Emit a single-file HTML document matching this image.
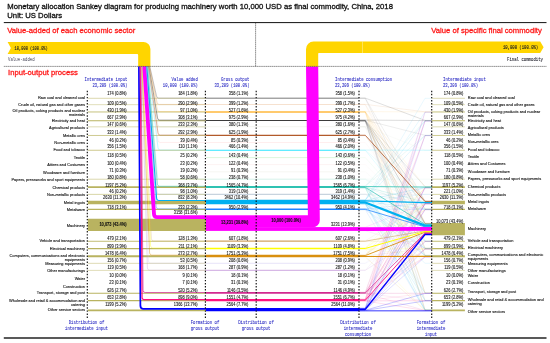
<!DOCTYPE html>
<html lang="en"><head><meta charset="utf-8"><title>Monetary allocation Sankey diagram</title>
<style>html,body{margin:0;padding:0;background:#fff;}body{width:550px;height:343px;overflow:hidden;}svg{display:block;}</style>
</head><body>
<svg width="550" height="343" viewBox="0 0 550 343">
<rect x="0" y="0" width="550" height="343" fill="#fff"/>
<g stroke="#b9b360" fill="none">
<line x1="87.8" x2="206" y1="98.31" y2="98.31" stroke-width="0.51"/>
<line x1="431.5" x2="464.9" y1="98.31" y2="98.31" stroke-width="0.51"/>
<line x1="87.8" x2="206" y1="104.67" y2="104.67" stroke-width="0.43"/>
<line x1="431.5" x2="464.9" y1="104.67" y2="104.67" stroke-width="0.43"/>
<line x1="87.8" x2="206" y1="111.96" y2="111.96" stroke-width="0.81"/>
<line x1="431.5" x2="464.9" y1="111.96" y2="111.96" stroke-width="0.81"/>
<line x1="87.8" x2="206" y1="120.68" y2="120.68" stroke-width="1.09"/>
<line x1="431.5" x2="464.9" y1="120.68" y2="120.68" stroke-width="1.09"/>
<line x1="87.8" x2="206" y1="126.84" y2="126.84" stroke-width="0.47"/>
<line x1="431.5" x2="464.9" y1="126.84" y2="126.84" stroke-width="0.47"/>
<line x1="87.8" x2="206" y1="135.47" y2="135.47" stroke-width="0.69"/>
<line x1="431.5" x2="464.9" y1="135.47" y2="135.47" stroke-width="0.69"/>
<line x1="87.8" x2="206" y1="150.26" y2="150.26" stroke-width="0.72"/>
<line x1="431.5" x2="464.9" y1="150.26" y2="150.26" stroke-width="0.72"/>
<line x1="87.8" x2="206" y1="179.23" y2="179.23" stroke-width="0.51"/>
<line x1="431.5" x2="464.9" y1="179.23" y2="179.23" stroke-width="0.51"/>
<line x1="87.8" x2="206" y1="187.22" y2="187.22" stroke-width="1.71"/>
<line x1="431.5" x2="464.9" y1="187.22" y2="187.22" stroke-width="1.71"/>
<line x1="87.8" x2="206" y1="194.36" y2="194.36" stroke-width="0.56"/>
<line x1="431.5" x2="464.9" y1="194.36" y2="194.36" stroke-width="0.56"/>
<line x1="87.8" x2="206" y1="202.49" y2="202.49" stroke-width="3.40"/>
<line x1="431.5" x2="464.9" y1="202.49" y2="202.49" stroke-width="3.40"/>
<line x1="87.8" x2="206" y1="209.34" y2="209.34" stroke-width="1.15"/>
<line x1="431.5" x2="464.9" y1="209.34" y2="209.34" stroke-width="1.15"/>
<line x1="87.8" x2="206" y1="224.96" y2="224.96" stroke-width="12.19"/>
<line x1="431.5" x2="464.9" y1="229.11" y2="229.11" stroke-width="12.19"/>
<line x1="87.8" x2="206" y1="241.28" y2="241.28" stroke-width="0.87"/>
<line x1="431.5" x2="464.9" y1="241.28" y2="241.28" stroke-width="0.87"/>
<line x1="87.8" x2="206" y1="248.62" y2="248.62" stroke-width="1.36"/>
<line x1="431.5" x2="464.9" y1="248.62" y2="248.62" stroke-width="1.36"/>
<line x1="87.8" x2="206" y1="256.16" y2="256.16" stroke-width="2.04"/>
<line x1="431.5" x2="464.9" y1="256.16" y2="256.16" stroke-width="2.04"/>
<line x1="87.8" x2="206" y1="263.33" y2="263.33" stroke-width="0.48"/>
<line x1="431.5" x2="464.9" y1="263.33" y2="263.33" stroke-width="0.48"/>
<line x1="87.8" x2="206" y1="270.40" y2="270.40" stroke-width="0.44"/>
<line x1="431.5" x2="464.9" y1="270.40" y2="270.40" stroke-width="0.44"/>
<line x1="87.8" x2="206" y1="293.21" y2="293.21" stroke-width="1.04"/>
<line x1="431.5" x2="464.9" y1="293.21" y2="293.21" stroke-width="1.04"/>
<line x1="87.8" x2="206" y1="300.63" y2="300.63" stroke-width="1.07"/>
<line x1="431.5" x2="464.9" y1="300.63" y2="300.63" stroke-width="1.07"/>
<line x1="87.8" x2="206" y1="310.41" y2="310.41" stroke-width="1.71"/>
<line x1="431.5" x2="464.9" y1="310.41" y2="310.41" stroke-width="1.71"/>
</g>
<g fill="none">
<line x1="206" x2="359.2" y1="98.20" y2="98.20" stroke="#585858" stroke-width="0.80"/>
<line x1="206" x2="359.2" y1="104.50" y2="104.50" stroke="#e8b487" stroke-width="0.40"/>
<line x1="206" x2="359.2" y1="111.90" y2="111.90" stroke="#ffb83c" stroke-width="1.50"/>
<line x1="206" x2="359.2" y1="120.50" y2="120.50" stroke="#3c3c3c" stroke-width="1.15"/>
<line x1="206" x2="359.2" y1="126.70" y2="126.70" stroke="#d6dccb" stroke-width="0.30"/>
<line x1="206" x2="359.2" y1="135.30" y2="135.30" stroke="#b25a2a" stroke-width="1.20"/>
<line x1="206" x2="359.2" y1="142.50" y2="142.50" stroke="#ffc4c4" stroke-width="0.30"/>
<line x1="206" x2="359.2" y1="150.20" y2="150.20" stroke="#2ee4ff" stroke-width="1.05"/>
<line x1="206" x2="359.2" y1="157.60" y2="157.60" stroke="#a4eaa4" stroke-width="0.38"/>
<line x1="206" x2="359.2" y1="164.60" y2="164.60" stroke="#f6d4d4" stroke-width="0.28"/>
<line x1="206" x2="359.2" y1="171.80" y2="171.80" stroke="#e2e2cf" stroke-width="0.28"/>
<line x1="206" x2="359.2" y1="179.20" y2="179.20" stroke="#9fe3d0" stroke-width="0.42"/>
<line x1="206" x2="359.2" y1="187.00" y2="187.00" stroke="#2fc2b2" stroke-width="2.07"/>
<line x1="206" x2="359.2" y1="194.30" y2="194.30" stroke="#8aa2ba" stroke-width="0.60"/>
<line x1="206" x2="359.2" y1="202.00" y2="202.00" stroke="#00b0f0" stroke-width="4.31"/>
<line x1="206" x2="359.2" y1="209.20" y2="209.20" stroke="#1e82ff" stroke-width="1.35"/>
<line x1="206" x2="359.2" y1="241.20" y2="241.20" stroke="#d2a562" stroke-width="1.20"/>
<line x1="206" x2="359.2" y1="248.50" y2="248.50" stroke="#ffff00" stroke-width="1.53"/>
<line x1="206" x2="359.2" y1="256.00" y2="256.00" stroke="#d98f0f" stroke-width="2.29"/>
<line x1="206" x2="359.2" y1="263.30" y2="263.30" stroke="#c9c3f2" stroke-width="0.45"/>
<line x1="206" x2="359.2" y1="270.30" y2="270.30" stroke="#c08fd8" stroke-width="0.80"/>
<line x1="206" x2="359.2" y1="292.90" y2="292.90" stroke="#d22a90" stroke-width="1.57"/>
<line x1="206" x2="359.2" y1="300.10" y2="300.10" stroke="#ff1080" stroke-width="2.05"/>
<line x1="206" x2="359.2" y1="309.60" y2="309.60" stroke="#0000ff" stroke-width="3.25"/>
</g>
<rect x="206" y="215.29" width="50.5" height="15.61" fill="#ff00ff"/>
<rect x="255" y="227.09" width="104.3" height="3.81" fill="#ff00ff"/>
<g fill="none" stroke-linejoin="round">
<path d="M359 230.81H365.3L425 248.63H432" stroke="#ff00ff" stroke-width="0.28" stroke-opacity="0.32"/>
<path d="M359 111.84H365.3L425 208.95H432" stroke="#ffb83c" stroke-width="0.28" stroke-opacity="0.32"/>
<path d="M359 142.51H365.3L425 223.79H432" stroke="#ffc4c4" stroke-width="0.28" stroke-opacity="0.32"/>
<path d="M359 120.96H365.3L425 292.97H432" stroke="#3c3c3c" stroke-width="0.28" stroke-opacity="0.32"/>
<path d="M359 203.75H365.3L425 263.32H432" stroke="#00b0f0" stroke-width="0.28" stroke-opacity="0.32"/>
<path d="M359 126.91H365.3L425 309.85H432" stroke="#d6dccb" stroke-width="0.28" stroke-opacity="0.32"/>
<path d="M359 126.83H365.3L425 248.24H432" stroke="#d6dccb" stroke-width="0.28" stroke-opacity="0.32"/>
<path d="M359 171.81H365.3L425 223.97H432" stroke="#e2e2cf" stroke-width="0.28" stroke-opacity="0.32"/>
<path d="M359 292.32H365.3L425 135.58H432" stroke="#d22a90" stroke-width="0.28" stroke-opacity="0.32"/>
<path d="M359 187.79H365.3L425 293.03H432" stroke="#2fc2b2" stroke-width="0.28" stroke-opacity="0.32"/>
<path d="M359 199.97H365.3L425 98.30H432" stroke="#00b0f0" stroke-width="0.28" stroke-opacity="0.32"/>
<path d="M359 308.13H365.3L425 112.20H432" stroke="#0000ff" stroke-width="0.28" stroke-opacity="0.32"/>
<path d="M359 112.03H365.3L425 255.34H432" stroke="#ffb83c" stroke-width="0.28" stroke-opacity="0.32"/>
<path d="M359 299.23H365.3L425 112.17H432" stroke="#ff1080" stroke-width="0.28" stroke-opacity="0.32"/>
<path d="M359 270.20H365.3L425 203.50H432" stroke="#c08fd8" stroke-width="0.28" stroke-opacity="0.33"/>
<path d="M359 120.17H365.3L425 135.32H432" stroke="#3c3c3c" stroke-width="0.28" stroke-opacity="0.33"/>
<path d="M359 200.42H365.3L425 194.37H432" stroke="#00b0f0" stroke-width="0.28" stroke-opacity="0.33"/>
<path d="M359 111.74H365.3L425 186.56H432" stroke="#ffb83c" stroke-width="0.28" stroke-opacity="0.33"/>
<path d="M359 248.08H365.3L425 209.48H432" stroke="#ffff00" stroke-width="0.28" stroke-opacity="0.33"/>
<path d="M359 179.19H365.3L425 202.01H432" stroke="#9fe3d0" stroke-width="0.28" stroke-opacity="0.33"/>
<path d="M359 112.20H365.3L425 309.75H432" stroke="#ffb83c" stroke-width="0.28" stroke-opacity="0.33"/>
<path d="M359 112.00H365.3L425 248.15H432" stroke="#ffb83c" stroke-width="0.28" stroke-opacity="0.33"/>
<path d="M359 186.19H365.3L425 135.40H432" stroke="#2fc2b2" stroke-width="0.28" stroke-opacity="0.33"/>
<path d="M359 98.25H365.3L425 200.96H432" stroke="#585858" stroke-width="0.28" stroke-opacity="0.33"/>
<path d="M359 263.25H365.3L425 203.47H432" stroke="#c9c3f2" stroke-width="0.28" stroke-opacity="0.33"/>
<path d="M359 292.28H365.3L425 120.96H432" stroke="#d22a90" stroke-width="0.28" stroke-opacity="0.34"/>
<path d="M359 293.16H365.3L425 241.45H432" stroke="#d22a90" stroke-width="0.28" stroke-opacity="0.34"/>
<path d="M359 135.61H365.3L425 223.76H432" stroke="#b25a2a" stroke-width="0.28" stroke-opacity="0.34"/>
<path d="M359 249.05H365.3L425 255.81H432" stroke="#ffff00" stroke-width="0.28" stroke-opacity="0.34"/>
<path d="M359 300.77H365.3L425 293.33H432" stroke="#ff1080" stroke-width="0.28" stroke-opacity="0.34"/>
<path d="M359 120.77H365.3L425 241.04H432" stroke="#3c3c3c" stroke-width="0.28" stroke-opacity="0.34"/>
<path d="M359 164.61H365.3L425 223.94H432" stroke="#f6d4d4" stroke-width="0.28" stroke-opacity="0.34"/>
<path d="M359 255.24H365.3L425 209.51H432" stroke="#d98f0f" stroke-width="0.28" stroke-opacity="0.34"/>
<path d="M359 293.49H365.3L425 300.63H432" stroke="#d22a90" stroke-width="0.28" stroke-opacity="0.34"/>
<path d="M359 247.96H365.3L425 187.58H432" stroke="#ffff00" stroke-width="0.28" stroke-opacity="0.34"/>
<path d="M359 120.99H365.3L425 300.30H432" stroke="#3c3c3c" stroke-width="0.28" stroke-opacity="0.35"/>
<path d="M359 186.15H365.3L425 120.75H432" stroke="#2fc2b2" stroke-width="0.28" stroke-opacity="0.35"/>
<path d="M359 200.02H365.3L425 112.06H432" stroke="#00b0f0" stroke-width="0.28" stroke-opacity="0.35"/>
<path d="M359 187.58H365.3L425 241.13H432" stroke="#2fc2b2" stroke-width="0.28" stroke-opacity="0.35"/>
<path d="M359 249.14H365.3L425 310.28H432" stroke="#ffff00" stroke-width="0.28" stroke-opacity="0.35"/>
<path d="M359 209.64H365.3L425 255.73H432" stroke="#1e82ff" stroke-width="0.28" stroke-opacity="0.35"/>
<path d="M359 308.23H365.3L425 135.65H432" stroke="#0000ff" stroke-width="0.28" stroke-opacity="0.35"/>
<path d="M359 299.33H365.3L425 135.61H432" stroke="#ff1080" stroke-width="0.28" stroke-opacity="0.35"/>
<path d="M359 240.93H365.3L425 203.26H432" stroke="#d2a562" stroke-width="0.28" stroke-opacity="0.35"/>
<path d="M359 104.53H365.3L425 200.99H432" stroke="#e8b487" stroke-width="0.28" stroke-opacity="0.35"/>
<path d="M359 157.61H365.3L425 223.90H432" stroke="#a4eaa4" stroke-width="0.28" stroke-opacity="0.35"/>
<path d="M359 208.77H365.3L425 187.50H432" stroke="#1e82ff" stroke-width="0.28" stroke-opacity="0.35"/>
<path d="M359 187.82H365.3L425 300.40H432" stroke="#2fc2b2" stroke-width="0.28" stroke-opacity="0.36"/>
<path d="M359 150.26H365.3L425 201.91H432" stroke="#2ee4ff" stroke-width="0.28" stroke-opacity="0.36"/>
<path d="M359 255.10H365.3L425 187.62H432" stroke="#d98f0f" stroke-width="0.28" stroke-opacity="0.36"/>
<path d="M359 209.74H365.3L425 310.20H432" stroke="#1e82ff" stroke-width="0.28" stroke-opacity="0.36"/>
<path d="M359 194.27H365.3L425 202.20H432" stroke="#8aa2ba" stroke-width="0.28" stroke-opacity="0.36"/>
<path d="M359 209.60H365.3L425 248.59H432" stroke="#1e82ff" stroke-width="0.28" stroke-opacity="0.36"/>
<path d="M359 257.01H365.3L425 310.32H432" stroke="#d98f0f" stroke-width="0.28" stroke-opacity="0.36"/>
<path d="M359 255.96H365.3L425 248.84H432" stroke="#d98f0f" stroke-width="0.28" stroke-opacity="0.36"/>
<path d="M359 203.82H365.3L425 293.08H432" stroke="#00b0f0" stroke-width="0.28" stroke-opacity="0.37"/>
<path d="M359 308.17H365.3L425 121.05H432" stroke="#0000ff" stroke-width="0.28" stroke-opacity="0.37"/>
<path d="M359 299.27H365.3L425 121.00H432" stroke="#ff1080" stroke-width="0.28" stroke-opacity="0.37"/>
<path d="M359 309.84H365.3L425 241.53H432" stroke="#0000ff" stroke-width="0.28" stroke-opacity="0.37"/>
<path d="M359 300.51H365.3L425 241.49H432" stroke="#ff1080" stroke-width="0.28" stroke-opacity="0.37"/>
<path d="M359 227.20H365.3L425 203.22H432" stroke="#ff00ff" stroke-width="0.28" stroke-opacity="0.37"/>
<path d="M359 126.67H365.3L425 201.24H432" stroke="#d6dccb" stroke-width="0.28" stroke-opacity="0.38"/>
<path d="M359 292.62H365.3L425 209.58H432" stroke="#d22a90" stroke-width="0.28" stroke-opacity="0.38"/>
<path d="M359 200.16H365.3L425 135.45H432" stroke="#00b0f0" stroke-width="0.28" stroke-opacity="0.38"/>
<path d="M359 120.49H365.3L425 208.99H432" stroke="#3c3c3c" stroke-width="0.28" stroke-opacity="0.39"/>
<path d="M359 179.24H365.3L425 224.01H432" stroke="#9fe3d0" stroke-width="0.28" stroke-opacity="0.39"/>
<path d="M359 98.31H365.3L425 223.19H432" stroke="#585858" stroke-width="0.28" stroke-opacity="0.39"/>
<path d="M359 179.12H365.3L425 179.20H432" stroke="#9fe3d0" stroke-width="0.28" stroke-opacity="0.39"/>
<path d="M359 194.21H365.3L425 194.33H432" stroke="#8aa2ba" stroke-width="0.28" stroke-opacity="0.39"/>
<path d="M359 293.28H365.3L425 256.83H432" stroke="#d22a90" stroke-width="0.28" stroke-opacity="0.40"/>
<path d="M359 263.31H365.3L425 232.53H432" stroke="#c9c3f2" stroke-width="0.28" stroke-opacity="0.40"/>
<path d="M359 187.06H365.3L425 209.14H432" stroke="#2fc2b2" stroke-width="0.28" stroke-opacity="0.40"/>
<path d="M359 120.89H365.3L425 255.38H432" stroke="#3c3c3c" stroke-width="0.28" stroke-opacity="0.40"/>
<path d="M359 111.80H365.3L425 201.04H432" stroke="#ffb83c" stroke-width="0.28" stroke-opacity="0.40"/>
<path d="M359 292.42H365.3L425 187.71H432" stroke="#d22a90" stroke-width="0.28" stroke-opacity="0.41"/>
<path d="M359 200.07H365.3L425 120.81H432" stroke="#00b0f0" stroke-width="0.28" stroke-opacity="0.41"/>
<path d="M359 203.46H365.3L425 241.20H432" stroke="#00b0f0" stroke-width="0.28" stroke-opacity="0.41"/>
<path d="M359 120.27H365.3L425 186.61H432" stroke="#3c3c3c" stroke-width="0.28" stroke-opacity="0.41"/>
<path d="M359 293.54H365.3L425 310.42H432" stroke="#d22a90" stroke-width="0.28" stroke-opacity="0.41"/>
<path d="M359 293.21H365.3L425 248.93H432" stroke="#d22a90" stroke-width="0.28" stroke-opacity="0.41"/>
<path d="M359 187.71H365.3L425 255.54H432" stroke="#2fc2b2" stroke-width="0.28" stroke-opacity="0.42"/>
<path d="M359 121.04H365.3L425 309.80H432" stroke="#3c3c3c" stroke-width="0.28" stroke-opacity="0.42"/>
<path d="M359 120.82H365.3L425 248.20H432" stroke="#3c3c3c" stroke-width="0.28" stroke-opacity="0.42"/>
<path d="M359 111.64H365.3L425 111.92H432" stroke="#ffb83c" stroke-width="0.28" stroke-opacity="0.42"/>
<path d="M359 126.56H365.3L425 150.11H432" stroke="#d6dccb" stroke-width="0.28" stroke-opacity="0.42"/>
<path d="M359 203.87H365.3L425 300.47H432" stroke="#00b0f0" stroke-width="0.28" stroke-opacity="0.42"/>
<path d="M359 104.61H365.3L425 223.26H432" stroke="#e8b487" stroke-width="0.28" stroke-opacity="0.43"/>
<path d="M359 308.66H365.3L425 209.72H432" stroke="#0000ff" stroke-width="0.28" stroke-opacity="0.43"/>
<path d="M359 299.76H365.3L425 209.65H432" stroke="#ff1080" stroke-width="0.28" stroke-opacity="0.43"/>
<path d="M359 248.02H365.3L425 203.32H432" stroke="#ffff00" stroke-width="0.28" stroke-opacity="0.44"/>
<path d="M359 187.88H365.3L425 309.98H432" stroke="#2fc2b2" stroke-width="0.28" stroke-opacity="0.44"/>
<path d="M359 187.64H365.3L425 248.38H432" stroke="#2fc2b2" stroke-width="0.28" stroke-opacity="0.44"/>
<path d="M359 150.34H365.3L425 223.84H432" stroke="#2ee4ff" stroke-width="0.28" stroke-opacity="0.44"/>
<path d="M359 194.35H365.3L425 224.55H432" stroke="#8aa2ba" stroke-width="0.28" stroke-opacity="0.44"/>
<path d="M359 310.01H365.3L425 256.99H432" stroke="#0000ff" stroke-width="0.28" stroke-opacity="0.46"/>
<path d="M359 300.67H365.3L425 256.90H432" stroke="#ff1080" stroke-width="0.28" stroke-opacity="0.46"/>
<path d="M359 208.84H365.3L425 203.15H432" stroke="#1e82ff" stroke-width="0.28" stroke-opacity="0.46"/>
<path d="M359 255.18H365.3L425 203.41H432" stroke="#d98f0f" stroke-width="0.28" stroke-opacity="0.47"/>
<path d="M359 308.36H365.3L425 187.88H432" stroke="#0000ff" stroke-width="0.28" stroke-opacity="0.47"/>
<path d="M359 299.46H365.3L425 187.79H432" stroke="#ff1080" stroke-width="0.28" stroke-opacity="0.47"/>
<path d="M359 126.76H365.3L425 223.70H432" stroke="#d6dccb" stroke-width="0.28" stroke-opacity="0.47"/>
<path d="M359 309.92H365.3L425 249.11H432" stroke="#0000ff" stroke-width="0.28" stroke-opacity="0.48"/>
<path d="M359 300.97H365.3L425 310.50H432" stroke="#ff1080" stroke-width="0.28" stroke-opacity="0.48"/>
<path d="M359 300.58H365.3L425 249.01H432" stroke="#ff1080" stroke-width="0.28" stroke-opacity="0.48"/>
<path d="M359 201.37H365.3L425 209.23H432" stroke="#00b0f0" stroke-width="0.28" stroke-opacity="0.50"/>
<path d="M359 112.11H365.3L425 292.90H432" stroke="#ffb83c" stroke-width="0.28" stroke-opacity="0.50"/>
<path d="M359 241.42H365.3L425 241.32H432" stroke="#d2a562" stroke-width="0.28" stroke-opacity="0.50"/>
<path d="M359 111.91H365.3L425 223.35H432" stroke="#ffb83c" stroke-width="0.28" stroke-opacity="0.53"/>
<path d="M359 203.68H365.3L425 255.65H432" stroke="#00b0f0" stroke-width="0.28" stroke-opacity="0.53"/>
<path d="M359 200.34H365.3L425 187.42H432" stroke="#00b0f0" stroke-width="0.28" stroke-opacity="0.55"/>
<path d="M359 300.85H365.3L425 300.71H432" stroke="#ff1080" stroke-width="0.28" stroke-opacity="0.56"/>
<path d="M359 203.98H365.3L425 310.11H432" stroke="#00b0f0" stroke-width="0.28" stroke-opacity="0.56"/>
<path d="M359 203.56H365.3L425 248.50H432" stroke="#00b0f0" stroke-width="0.28" stroke-opacity="0.56"/>
<path d="M359 292.53H365.3L425 203.59H432" stroke="#d22a90" stroke-width="0.28" stroke-opacity="0.57"/>
<path d="M359 120.39H365.3L425 201.14H432" stroke="#3c3c3c" stroke-width="0.28" stroke-opacity="0.58"/>
<path d="M359 208.95H365.3L425 209.36H432" stroke="#1e82ff" stroke-width="0.28" stroke-opacity="0.58"/>
<path d="M359 293.40H365.3L425 293.25H432" stroke="#d22a90" stroke-width="0.28" stroke-opacity="0.58"/>
<path d="M359 248.96H365.3L425 248.74H432" stroke="#ffff00" stroke-width="0.28" stroke-opacity="0.61"/>
<path d="M359 186.95H365.3L425 202.10H432" stroke="#2fc2b2" stroke-width="0.28" stroke-opacity="0.62"/>
<path d="M359 104.37H365.3L425 111.80H432" stroke="#e8b487" stroke-width="0.28" stroke-opacity="0.66"/>
<path d="M359 120.06H365.3L425 120.59H432" stroke="#3c3c3c" stroke-width="0.28" stroke-opacity="0.66"/>
<path d="M359 270.31H365.3L425 232.65H432" stroke="#c08fd8" stroke-width="0.28" stroke-opacity="0.66"/>
<path d="M359 98.10H365.3L425 120.38H432" stroke="#585858" stroke-width="0.28" stroke-opacity="0.69"/>
<path d="M359 308.53H365.3L425 203.95H432" stroke="#0000ff" stroke-width="0.28" stroke-opacity="0.70"/>
<path d="M359 299.63H365.3L425 203.75H432" stroke="#ff1080" stroke-width="0.28" stroke-opacity="0.70"/>
<path d="M359 310.20H365.3L425 293.46H432" stroke="#0000ff" stroke-width="0.28" stroke-opacity="0.77"/>
<path d="M359 120.63H365.3L425 223.53H432" stroke="#3c3c3c" stroke-width="0.28" stroke-opacity="0.80"/>
<path d="M359 150.08H365.3L425 150.26H432" stroke="#2ee4ff" stroke-width="0.28" stroke-opacity="0.80"/>
<path d="M359 310.43H365.3L425 300.90H432" stroke="#0000ff" stroke-width="0.28" stroke-opacity="0.80"/>
<path d="M359 241.17H365.3L425 230.87H432" stroke="#d2a562" stroke-width="0.62" stroke-opacity="1.00"/>
<path d="M359 187.32H365.3L425 224.28H432" stroke="#2fc2b2" stroke-width="0.69" stroke-opacity="1.00"/>
<path d="M359 292.90H365.3L425 233.00H432" stroke="#d22a90" stroke-width="0.72" stroke-opacity="1.00"/>
<path d="M359 209.29H365.3L425 226.86H432" stroke="#1e82ff" stroke-width="0.75" stroke-opacity="1.00"/>
<path d="M359 310.83H365.3L425 310.83H432" stroke="#0000ff" stroke-width="0.79" stroke-opacity="1.00"/>
<path d="M359 186.56H365.3L425 187.04H432" stroke="#2fc2b2" stroke-width="0.81" stroke-opacity="1.00"/>
<path d="M359 135.28H365.3L425 201.57H432" stroke="#b25a2a" stroke-width="0.83" stroke-opacity="1.00"/>
<path d="M359 255.59H365.3L425 232.17H432" stroke="#d98f0f" stroke-width="0.88" stroke-opacity="1.00"/>
<path d="M359 300.14H365.3L425 233.59H432" stroke="#ff1080" stroke-width="0.90" stroke-opacity="1.00"/>
<path d="M359 248.48H365.3L425 231.45H432" stroke="#ffff00" stroke-width="0.99" stroke-opacity="1.00"/>
<path d="M359 200.87H365.3L425 202.66H432" stroke="#00b0f0" stroke-width="1.10" stroke-opacity="1.00"/>
<path d="M359 256.46H365.3L425 256.30H432" stroke="#d98f0f" stroke-width="1.16" stroke-opacity="1.00"/>
<path d="M359 309.26H365.3L425 234.49H432" stroke="#0000ff" stroke-width="1.34" stroke-opacity="1.00"/>
<path d="M359 202.42H365.3L425 225.59H432" stroke="#00b0f0" stroke-width="2.23" stroke-opacity="1.00"/>
<path d="M359 229.01H365.3L425 228.90H432" stroke="#ff00ff" stroke-width="3.76" stroke-opacity="1.00"/>
</g>
<path d="M255 215.29 H307.90 L306.00 66.4 H318.20 L319.80 220.24 A7.00 7.00 0 0 1 312.80 227.24 H255 Z" fill="#ff00ff"/>
<path d="M306.00 66.4 V49.20 A7.60 7.60 0 0 1 313.60 41.60 H540.2 L543.6 47.35 L540.2 53.10 H318.80 A0.60 0.60 0 0 0 318.20 53.70 V66.4 Z" fill="#ffd500"/>
<line x1="362.5" x2="362.5" y1="41.60" y2="53.10" stroke="#fff" stroke-width="0.35"/>
<path d="M7.6 41.90 H143.40 A7.00 7.00 0 0 1 150.40 48.90 V66.4 H138.15 V55.00 A1.00 1.00 0 0 0 137.15 54.00 H7.6 L10.9 47.95 Z" fill="#ffd500"/>
<g fill="none" stroke-linejoin="round">
<path d="M138.91 66.4 L140.40 305.89 Q140.55 308.89 143.40 308.89 H206.2" stroke="#0000ff" stroke-width="1.73"/>
<path d="M140.24 66.4 L142.05 297.51 Q142.20 299.71 144.25 299.71 H206.2" stroke="#ff1080" stroke-width="1.18"/>
<path d="M141.08 66.4 L143.00 290.33 Q143.15 292.53 145.20 292.53 H206.2" stroke="#d22a90" stroke-width="0.73"/>
<path d="M141.50 66.4 L147.40 268.03 Q147.55 270.23 149.60 270.23 H206.2" stroke="#c08fd8" stroke-width="0.32"/>
<path d="M141.63 66.4 L148.40 261.01 Q148.55 263.21 150.60 263.21 H206.2" stroke="#c9c3f2" stroke-width="0.30"/>
<path d="M141.83 66.4 L149.60 252.93 Q149.75 255.13 151.80 255.13 H206.2" stroke="#d98f0f" stroke-width="0.44"/>
<path d="M142.11 66.4 L150.60 245.77 Q150.75 247.97 152.80 247.97 H206.2" stroke="#ffff00" stroke-width="0.37"/>
<path d="M142.31 66.4 L151.40 238.72 Q151.55 240.92 153.60 240.92 H206.2" stroke="#d2a562" stroke-width="0.30"/>
<path d="M144.25 66.4 L154.00 214.15 Q154.15 217.15 157.00 217.15 H206.2" stroke="#ff00ff" stroke-width="3.85"/>
<path d="M146.25 66.4 L156.20 206.58 Q156.35 208.78 158.40 208.78 H206.2" stroke="#1e82ff" stroke-width="0.39"/>
<path d="M146.88 66.4 L156.60 198.25 Q156.75 200.45 158.80 200.45 H206.2" stroke="#00b0f0" stroke-width="1.10"/>
<path d="M147.43 66.4 L157.00 191.97 Q157.15 194.17 159.20 194.17 H206.2" stroke="#8aa2ba" stroke-width="0.30"/>
<path d="M147.70 66.4 L157.40 184.09 Q157.55 186.29 159.60 186.29 H206.2" stroke="#2fc2b2" stroke-width="0.55"/>
<path d="M147.95 66.4 L157.60 176.89 Q157.75 179.09 159.80 179.09 H206.2" stroke="#9fe3d0" stroke-width="0.30"/>
<path d="M148.13 66.4 L158.00 147.79 Q158.15 149.99 160.20 149.99 H206.2" stroke="#2ee4ff" stroke-width="0.30"/>
<path d="M148.22 66.4 L158.00 140.27 Q158.15 142.47 160.20 142.47 H206.2" stroke="#ffc4c4" stroke-width="0.30"/>
<path d="M148.42 66.4 L158.00 132.90 Q158.15 135.10 160.20 135.10 H206.2" stroke="#b25a2a" stroke-width="0.46"/>
<path d="M148.73 66.4 L157.80 124.41 Q157.95 126.61 160.00 126.61 H206.2" stroke="#d6dccb" stroke-width="0.39"/>
<path d="M149.04 66.4 L157.50 117.91 Q157.65 120.11 159.70 120.11 H206.2" stroke="#3c3c3c" stroke-width="0.48"/>
<path d="M149.28 66.4 L157.30 109.45 Q157.45 111.65 159.50 111.65 H206.2" stroke="#ffb83c" stroke-width="0.30"/>
<path d="M149.51 66.4 L157.00 102.24 Q157.15 104.44 159.20 104.44 H206.2" stroke="#e8b487" stroke-width="0.46"/>
<path d="M149.79 66.4 L156.50 95.90 Q156.65 98.10 158.70 98.10 H206.2" stroke="#585858" stroke-width="0.34"/>
</g>
<line x1="3.8" x2="546.5" y1="22.6" y2="22.6" stroke="#111" stroke-width="1"/>
<line x1="3.8" x2="546.5" y1="337.9" y2="337.9" stroke="#222" stroke-width="1.5"/>
<line x1="3.8" x2="546.5" y1="66.4" y2="66.4" stroke="#222" stroke-width="0.5" stroke-dasharray="1.5 0.4"/>
<line x1="255.6" x2="255.6" y1="23" y2="66.4" stroke="#222" stroke-width="0.5" stroke-dasharray="1.5 0.4"/>
<line x1="87.3" x2="87.3" y1="90.8" y2="318" stroke="#111" stroke-width="1.15" stroke-dasharray="1.45 1.6"/>
<line x1="205.4" x2="205.4" y1="90.8" y2="318" stroke="#111" stroke-width="1.15" stroke-dasharray="1.45 1.6"/>
<line x1="256.2" x2="256.2" y1="90.8" y2="318" stroke="#111" stroke-width="1.15" stroke-dasharray="1.45 1.6"/>
<line x1="359.0" x2="359.0" y1="90.8" y2="318" stroke="#111" stroke-width="1.15" stroke-dasharray="1.45 1.6"/>
<line x1="431.7" x2="431.7" y1="90.8" y2="318" stroke="#111" stroke-width="1.15" stroke-dasharray="1.45 1.6"/>
<g font-family='"Liberation Sans", sans-serif' font-size="7.71" fill="#111" stroke="#111" stroke-width="0.3">
<text x="7.3" y="9.1">Monetary allocation Sankey diagram for producing machinery worth 10,000 USD as final commodity, China, 2018</text>
<text x="7.3" y="18.3">Unit: US Dollars</text>
</g>
<g font-family='"Liberation Sans", sans-serif' font-size="7.67" fill="#ff1a1a" stroke="#ff1a1a" stroke-width="0.3">
<text x="7.3" y="33.3">Value-added of each economic sector</text>
<text x="541.8" y="33.3" text-anchor="end">Value of specific final commodity</text>
<text x="8" y="75.2">Input-output process</text>
</g>
<g font-family='"Liberation Mono", "DejaVu Sans Mono", monospace' font-size="5.0" fill="#222" stroke="#222" stroke-width="0.12">
<text x="14.6" y="50.0" textLength="33.2" lengthAdjust="spacingAndGlyphs">10,000 (100.0%)</text>
<text x="8" y="60.6" fill="#445" stroke="none" textLength="26.7" lengthAdjust="spacingAndGlyphs">Value-added</text>
<text x="538.2" y="48.7" text-anchor="end" textLength="35.3" lengthAdjust="spacingAndGlyphs">10,000 (100.0%)</text>
<text x="543" y="60.7" text-anchor="end" fill="#445" textLength="36" lengthAdjust="spacingAndGlyphs">Final commodity</text>
</g>
<g font-family='"Liberation Mono", "DejaVu Sans Mono", monospace' font-size="5.0" fill="#3434c6" stroke="#3434c6" stroke-width="0.1">
<text x="127.4" y="81.3" text-anchor="end" textLength="42.8" lengthAdjust="spacingAndGlyphs">Intermediate input</text>
<text x="127.4" y="86.9" text-anchor="end" textLength="35.0" lengthAdjust="spacingAndGlyphs">23,209 (100.0%)</text>
<text x="197.8" y="81.3" text-anchor="end" textLength="26.2" lengthAdjust="spacingAndGlyphs">Value added</text>
<text x="197.8" y="86.9" text-anchor="end" textLength="35.0" lengthAdjust="spacingAndGlyphs">10,000 (100.0%)</text>
<text x="249.5" y="81.3" text-anchor="end" textLength="28.6" lengthAdjust="spacingAndGlyphs">Gross output</text>
<text x="249.5" y="86.9" text-anchor="end" textLength="35.0" lengthAdjust="spacingAndGlyphs">33,209 (100.0%)</text>
<text x="335.0" y="81.3" text-anchor="start" textLength="57.1" lengthAdjust="spacingAndGlyphs">Intermediate consumption</text>
<text x="335.0" y="86.9" text-anchor="start" textLength="35.0" lengthAdjust="spacingAndGlyphs">23,209 (100.0%)</text>
<text x="443.0" y="81.3" text-anchor="start" textLength="42.8" lengthAdjust="spacingAndGlyphs">Intermediate input</text>
<text x="443.0" y="86.9" text-anchor="start" textLength="35.0" lengthAdjust="spacingAndGlyphs">23,209 (100.0%)</text>
<text x="86.5" y="324.0" text-anchor="middle" textLength="35.7" lengthAdjust="spacingAndGlyphs">Distribution of</text>
<text x="86.5" y="329.8" text-anchor="middle" textLength="42.8" lengthAdjust="spacingAndGlyphs">intermediate input</text>
<text x="205.0" y="324.0" text-anchor="middle" textLength="28.6" lengthAdjust="spacingAndGlyphs">Formation of</text>
<text x="205.0" y="329.8" text-anchor="middle" textLength="28.6" lengthAdjust="spacingAndGlyphs">gross output</text>
<text x="256.0" y="324.0" text-anchor="middle" textLength="35.7" lengthAdjust="spacingAndGlyphs">Distribution of</text>
<text x="256.0" y="329.8" text-anchor="middle" textLength="28.6" lengthAdjust="spacingAndGlyphs">gross output</text>
<text x="358.0" y="324.0" text-anchor="middle" textLength="35.7" lengthAdjust="spacingAndGlyphs">Distribution of</text>
<text x="358.0" y="329.8" text-anchor="middle" textLength="28.6" lengthAdjust="spacingAndGlyphs">intermediate</text>
<text x="358.0" y="335.6" text-anchor="middle" textLength="26.2" lengthAdjust="spacingAndGlyphs">consumption</text>
<text x="431.0" y="324.0" text-anchor="middle" textLength="28.6" lengthAdjust="spacingAndGlyphs">Formation of</text>
<text x="431.0" y="329.8" text-anchor="middle" textLength="28.6" lengthAdjust="spacingAndGlyphs">intermediate</text>
<text x="431.0" y="335.6" text-anchor="middle" textLength="11.9" lengthAdjust="spacingAndGlyphs">input</text>
</g>
<g font-family='"Liberation Sans", sans-serif' font-size="4.55" fill="#111" stroke="#111" stroke-width="0.09">
<text x="126.6" y="94.85" text-anchor="end" textLength="19.47" lengthAdjust="spacingAndGlyphs">174 (0.8%)</text>
<text x="197.6" y="94.85" text-anchor="end" textLength="19.47" lengthAdjust="spacingAndGlyphs">184 (1.8%)</text>
<text x="248.3" y="94.85" text-anchor="end" textLength="19.47" lengthAdjust="spacingAndGlyphs">358 (1.1%)</text>
<text x="354.9" y="94.85" text-anchor="end" textLength="19.47" lengthAdjust="spacingAndGlyphs">358 (1.5%)</text>
<text x="463.3" y="94.85" text-anchor="end" textLength="19.47" lengthAdjust="spacingAndGlyphs">174 (0.8%)</text>
<text x="126.6" y="104.65" text-anchor="end" textLength="19.47" lengthAdjust="spacingAndGlyphs">109 (0.5%)</text>
<text x="197.6" y="104.65" text-anchor="end" textLength="19.47" lengthAdjust="spacingAndGlyphs">290 (2.9%)</text>
<text x="248.3" y="104.65" text-anchor="end" textLength="19.47" lengthAdjust="spacingAndGlyphs">399 (1.2%)</text>
<text x="354.9" y="104.65" text-anchor="end" textLength="19.47" lengthAdjust="spacingAndGlyphs">399 (1.7%)</text>
<text x="463.3" y="104.65" text-anchor="end" textLength="19.47" lengthAdjust="spacingAndGlyphs">109 (0.5%)</text>
<text x="126.6" y="111.75" text-anchor="end" textLength="19.47" lengthAdjust="spacingAndGlyphs">430 (1.9%)</text>
<text x="197.6" y="111.75" text-anchor="end" textLength="17.25" lengthAdjust="spacingAndGlyphs">97 (1.0%)</text>
<text x="248.3" y="111.75" text-anchor="end" textLength="19.47" lengthAdjust="spacingAndGlyphs">527 (1.6%)</text>
<text x="354.9" y="111.75" text-anchor="end" textLength="19.47" lengthAdjust="spacingAndGlyphs">527 (2.3%)</text>
<text x="463.3" y="111.75" text-anchor="end" textLength="19.47" lengthAdjust="spacingAndGlyphs">430 (1.9%)</text>
<text x="126.6" y="119.25" text-anchor="end" textLength="19.47" lengthAdjust="spacingAndGlyphs">667 (2.9%)</text>
<text x="197.6" y="119.25" text-anchor="end" textLength="19.47" lengthAdjust="spacingAndGlyphs">308 (3.1%)</text>
<text x="248.3" y="119.25" text-anchor="end" textLength="19.47" lengthAdjust="spacingAndGlyphs">975 (2.9%)</text>
<text x="354.9" y="119.25" text-anchor="end" textLength="19.47" lengthAdjust="spacingAndGlyphs">975 (4.2%)</text>
<text x="463.3" y="119.25" text-anchor="end" textLength="19.47" lengthAdjust="spacingAndGlyphs">667 (2.9%)</text>
<text x="126.6" y="126.25" text-anchor="end" textLength="19.47" lengthAdjust="spacingAndGlyphs">147 (0.6%)</text>
<text x="197.6" y="126.25" text-anchor="end" textLength="19.47" lengthAdjust="spacingAndGlyphs">233 (2.3%)</text>
<text x="248.3" y="126.25" text-anchor="end" textLength="19.47" lengthAdjust="spacingAndGlyphs">380 (1.1%)</text>
<text x="354.9" y="126.25" text-anchor="end" textLength="19.47" lengthAdjust="spacingAndGlyphs">380 (1.6%)</text>
<text x="463.3" y="126.25" text-anchor="end" textLength="19.47" lengthAdjust="spacingAndGlyphs">147 (0.6%)</text>
<text x="126.6" y="133.95" text-anchor="end" textLength="19.47" lengthAdjust="spacingAndGlyphs">333 (1.4%)</text>
<text x="197.6" y="133.95" text-anchor="end" textLength="19.47" lengthAdjust="spacingAndGlyphs">292 (2.9%)</text>
<text x="248.3" y="133.95" text-anchor="end" textLength="19.47" lengthAdjust="spacingAndGlyphs">625 (1.9%)</text>
<text x="354.9" y="133.95" text-anchor="end" textLength="19.47" lengthAdjust="spacingAndGlyphs">625 (2.7%)</text>
<text x="463.3" y="133.95" text-anchor="end" textLength="19.47" lengthAdjust="spacingAndGlyphs">333 (1.4%)</text>
<text x="126.6" y="142.35" text-anchor="end" textLength="17.25" lengthAdjust="spacingAndGlyphs">46 (0.2%)</text>
<text x="197.6" y="142.35" text-anchor="end" textLength="17.25" lengthAdjust="spacingAndGlyphs">39 (0.4%)</text>
<text x="248.3" y="142.35" text-anchor="end" textLength="17.25" lengthAdjust="spacingAndGlyphs">85 (0.3%)</text>
<text x="354.9" y="142.35" text-anchor="end" textLength="17.25" lengthAdjust="spacingAndGlyphs">85 (0.4%)</text>
<text x="463.3" y="142.35" text-anchor="end" textLength="17.25" lengthAdjust="spacingAndGlyphs">46 (0.2%)</text>
<text x="126.6" y="147.85" text-anchor="end" textLength="19.47" lengthAdjust="spacingAndGlyphs">356 (1.5%)</text>
<text x="197.6" y="147.85" text-anchor="end" textLength="19.17" lengthAdjust="spacingAndGlyphs">110 (1.1%)</text>
<text x="248.3" y="147.85" text-anchor="end" textLength="19.47" lengthAdjust="spacingAndGlyphs">466 (1.4%)</text>
<text x="354.9" y="147.85" text-anchor="end" textLength="19.47" lengthAdjust="spacingAndGlyphs">466 (2.0%)</text>
<text x="463.3" y="147.85" text-anchor="end" textLength="19.47" lengthAdjust="spacingAndGlyphs">356 (1.5%)</text>
<text x="126.6" y="157.35" text-anchor="end" textLength="19.17" lengthAdjust="spacingAndGlyphs">118 (0.5%)</text>
<text x="197.6" y="157.35" text-anchor="end" textLength="17.25" lengthAdjust="spacingAndGlyphs">25 (0.2%)</text>
<text x="248.3" y="157.35" text-anchor="end" textLength="19.47" lengthAdjust="spacingAndGlyphs">143 (0.4%)</text>
<text x="354.9" y="157.35" text-anchor="end" textLength="19.47" lengthAdjust="spacingAndGlyphs">143 (0.6%)</text>
<text x="463.3" y="157.35" text-anchor="end" textLength="19.17" lengthAdjust="spacingAndGlyphs">118 (0.5%)</text>
<text x="126.6" y="164.65" text-anchor="end" textLength="19.47" lengthAdjust="spacingAndGlyphs">100 (0.4%)</text>
<text x="197.6" y="164.65" text-anchor="end" textLength="17.25" lengthAdjust="spacingAndGlyphs">23 (0.2%)</text>
<text x="248.3" y="164.65" text-anchor="end" textLength="19.47" lengthAdjust="spacingAndGlyphs">122 (0.4%)</text>
<text x="354.9" y="164.65" text-anchor="end" textLength="19.47" lengthAdjust="spacingAndGlyphs">122 (0.5%)</text>
<text x="463.3" y="164.65" text-anchor="end" textLength="19.47" lengthAdjust="spacingAndGlyphs">100 (0.4%)</text>
<text x="126.6" y="171.95" text-anchor="end" textLength="17.25" lengthAdjust="spacingAndGlyphs">71 (0.3%)</text>
<text x="197.6" y="171.95" text-anchor="end" textLength="17.25" lengthAdjust="spacingAndGlyphs">19 (0.2%)</text>
<text x="248.3" y="171.95" text-anchor="end" textLength="17.25" lengthAdjust="spacingAndGlyphs">91 (0.3%)</text>
<text x="354.9" y="171.95" text-anchor="end" textLength="17.25" lengthAdjust="spacingAndGlyphs">91 (0.4%)</text>
<text x="463.3" y="171.95" text-anchor="end" textLength="17.25" lengthAdjust="spacingAndGlyphs">71 (0.3%)</text>
<text x="126.6" y="179.15" text-anchor="end" textLength="19.47" lengthAdjust="spacingAndGlyphs">180 (0.8%)</text>
<text x="197.6" y="179.15" text-anchor="end" textLength="17.25" lengthAdjust="spacingAndGlyphs">58 (0.6%)</text>
<text x="248.3" y="179.15" text-anchor="end" textLength="19.47" lengthAdjust="spacingAndGlyphs">238 (0.7%)</text>
<text x="354.9" y="179.15" text-anchor="end" textLength="19.47" lengthAdjust="spacingAndGlyphs">238 (1.0%)</text>
<text x="463.3" y="179.15" text-anchor="end" textLength="19.47" lengthAdjust="spacingAndGlyphs">180 (0.8%)</text>
<text x="126.6" y="186.75" text-anchor="end" textLength="21.39" lengthAdjust="spacingAndGlyphs">1197 (5.2%)</text>
<text x="197.6" y="186.75" text-anchor="end" textLength="19.47" lengthAdjust="spacingAndGlyphs">368 (3.7%)</text>
<text x="248.3" y="186.75" text-anchor="end" textLength="21.68" lengthAdjust="spacingAndGlyphs">1565 (4.7%)</text>
<text x="354.9" y="186.75" text-anchor="end" textLength="21.68" lengthAdjust="spacingAndGlyphs">1565 (6.7%)</text>
<text x="463.3" y="186.75" text-anchor="end" textLength="21.39" lengthAdjust="spacingAndGlyphs">1197 (5.2%)</text>
<text x="126.6" y="193.35" text-anchor="end" textLength="17.25" lengthAdjust="spacingAndGlyphs">46 (0.2%)</text>
<text x="197.6" y="193.35" text-anchor="end" textLength="17.25" lengthAdjust="spacingAndGlyphs">98 (1.0%)</text>
<text x="248.3" y="193.35" text-anchor="end" textLength="19.47" lengthAdjust="spacingAndGlyphs">319 (1.0%)</text>
<text x="354.9" y="193.35" text-anchor="end" textLength="19.47" lengthAdjust="spacingAndGlyphs">319 (1.4%)</text>
<text x="463.3" y="193.35" text-anchor="end" textLength="19.47" lengthAdjust="spacingAndGlyphs">221 (1.0%)</text>
<text x="126.6" y="199.45" text-anchor="end" textLength="23.60" lengthAdjust="spacingAndGlyphs">2630 (11.3%)</text>
<text x="197.6" y="199.45" text-anchor="end" textLength="19.47" lengthAdjust="spacingAndGlyphs">832 (8.3%)</text>
<text x="248.3" y="199.45" text-anchor="end" textLength="23.89" lengthAdjust="spacingAndGlyphs">3462 (10.4%)</text>
<text x="354.9" y="199.45" text-anchor="end" textLength="23.89" lengthAdjust="spacingAndGlyphs">3462 (14.9%)</text>
<text x="463.3" y="199.45" text-anchor="end" textLength="23.60" lengthAdjust="spacingAndGlyphs">2630 (11.3%)</text>
<text x="126.6" y="208.95" text-anchor="end" textLength="19.47" lengthAdjust="spacingAndGlyphs">718 (3.1%)</text>
<text x="197.6" y="208.95" text-anchor="end" textLength="19.47" lengthAdjust="spacingAndGlyphs">233 (2.3%)</text>
<text x="248.3" y="208.95" text-anchor="end" textLength="19.47" lengthAdjust="spacingAndGlyphs">950 (2.9%)</text>
<text x="354.9" y="208.95" text-anchor="end" textLength="19.47" lengthAdjust="spacingAndGlyphs">950 (4.1%)</text>
<text x="463.3" y="208.95" text-anchor="end" textLength="19.47" lengthAdjust="spacingAndGlyphs">718 (3.1%)</text>
<text x="126.6" y="225.70" text-anchor="end" textLength="27.21" lengthAdjust="spacingAndGlyphs" font-weight="bold">10,073 (43.4%)</text>
<text x="197.6" y="214.20" text-anchor="end" textLength="23.89" lengthAdjust="spacingAndGlyphs">3158 (31.6%)</text>
<text x="248.3" y="224.15" text-anchor="end" textLength="27.21" lengthAdjust="spacingAndGlyphs" font-weight="bold">13,231 (39.8%)</text>
<text x="354.9" y="225.70" text-anchor="end" textLength="23.89" lengthAdjust="spacingAndGlyphs">3231 (13.9%)</text>
<text x="463.3" y="222.80" text-anchor="end" textLength="27.21" lengthAdjust="spacingAndGlyphs">10,073 (43.4%)</text>
<text x="126.6" y="239.65" text-anchor="end" textLength="19.47" lengthAdjust="spacingAndGlyphs">479 (2.1%)</text>
<text x="197.6" y="239.65" text-anchor="end" textLength="19.47" lengthAdjust="spacingAndGlyphs">128 (1.3%)</text>
<text x="248.3" y="239.65" text-anchor="end" textLength="19.47" lengthAdjust="spacingAndGlyphs">607 (1.8%)</text>
<text x="354.9" y="239.65" text-anchor="end" textLength="19.47" lengthAdjust="spacingAndGlyphs">607 (2.6%)</text>
<text x="463.3" y="239.65" text-anchor="end" textLength="19.47" lengthAdjust="spacingAndGlyphs">479 (2.1%)</text>
<text x="126.6" y="247.65" text-anchor="end" textLength="19.47" lengthAdjust="spacingAndGlyphs">899 (3.9%)</text>
<text x="197.6" y="247.65" text-anchor="end" textLength="19.17" lengthAdjust="spacingAndGlyphs">211 (2.1%)</text>
<text x="248.3" y="247.65" text-anchor="end" textLength="21.39" lengthAdjust="spacingAndGlyphs">1109 (3.3%)</text>
<text x="354.9" y="247.65" text-anchor="end" textLength="21.39" lengthAdjust="spacingAndGlyphs">1109 (4.8%)</text>
<text x="463.3" y="247.65" text-anchor="end" textLength="19.47" lengthAdjust="spacingAndGlyphs">899 (3.9%)</text>
<text x="126.6" y="254.65" text-anchor="end" textLength="21.68" lengthAdjust="spacingAndGlyphs">1478 (6.4%)</text>
<text x="197.6" y="254.65" text-anchor="end" textLength="19.47" lengthAdjust="spacingAndGlyphs">273 (2.7%)</text>
<text x="248.3" y="254.65" text-anchor="end" textLength="21.68" lengthAdjust="spacingAndGlyphs">1751 (5.3%)</text>
<text x="354.9" y="254.65" text-anchor="end" textLength="21.68" lengthAdjust="spacingAndGlyphs">1751 (7.5%)</text>
<text x="463.3" y="254.65" text-anchor="end" textLength="21.68" lengthAdjust="spacingAndGlyphs">1478 (6.4%)</text>
<text x="126.6" y="261.95" text-anchor="end" textLength="19.47" lengthAdjust="spacingAndGlyphs">156 (0.7%)</text>
<text x="197.6" y="261.95" text-anchor="end" textLength="17.25" lengthAdjust="spacingAndGlyphs">53 (0.5%)</text>
<text x="248.3" y="261.95" text-anchor="end" textLength="19.47" lengthAdjust="spacingAndGlyphs">208 (0.6%)</text>
<text x="354.9" y="261.95" text-anchor="end" textLength="19.47" lengthAdjust="spacingAndGlyphs">208 (0.9%)</text>
<text x="463.3" y="261.95" text-anchor="end" textLength="19.47" lengthAdjust="spacingAndGlyphs">156 (0.7%)</text>
<text x="126.6" y="269.15" text-anchor="end" textLength="19.17" lengthAdjust="spacingAndGlyphs">119 (0.5%)</text>
<text x="197.6" y="269.15" text-anchor="end" textLength="19.47" lengthAdjust="spacingAndGlyphs">168 (1.7%)</text>
<text x="248.3" y="269.15" text-anchor="end" textLength="19.47" lengthAdjust="spacingAndGlyphs">287 (0.9%)</text>
<text x="354.9" y="269.15" text-anchor="end" textLength="19.47" lengthAdjust="spacingAndGlyphs">287 (1.2%)</text>
<text x="463.3" y="269.15" text-anchor="end" textLength="19.17" lengthAdjust="spacingAndGlyphs">119 (0.5%)</text>
<text x="126.6" y="276.75" text-anchor="end" textLength="17.25" lengthAdjust="spacingAndGlyphs">10 (0.0%)</text>
<text x="197.6" y="276.75" text-anchor="end" textLength="15.04" lengthAdjust="spacingAndGlyphs">9 (0.1%)</text>
<text x="248.3" y="276.75" text-anchor="end" textLength="17.25" lengthAdjust="spacingAndGlyphs">18 (0.1%)</text>
<text x="354.9" y="276.75" text-anchor="end" textLength="17.25" lengthAdjust="spacingAndGlyphs">18 (0.1%)</text>
<text x="463.3" y="276.75" text-anchor="end" textLength="17.25" lengthAdjust="spacingAndGlyphs">10 (0.0%)</text>
<text x="126.6" y="284.35" text-anchor="end" textLength="17.25" lengthAdjust="spacingAndGlyphs">23 (0.1%)</text>
<text x="197.6" y="284.35" text-anchor="end" textLength="15.04" lengthAdjust="spacingAndGlyphs">7 (0.1%)</text>
<text x="248.3" y="284.35" text-anchor="end" textLength="17.25" lengthAdjust="spacingAndGlyphs">31 (0.1%)</text>
<text x="354.9" y="284.35" text-anchor="end" textLength="17.25" lengthAdjust="spacingAndGlyphs">31 (0.1%)</text>
<text x="463.3" y="284.35" text-anchor="end" textLength="17.25" lengthAdjust="spacingAndGlyphs">23 (0.1%)</text>
<text x="126.6" y="291.65" text-anchor="end" textLength="19.47" lengthAdjust="spacingAndGlyphs">626 (2.7%)</text>
<text x="197.6" y="291.65" text-anchor="end" textLength="19.47" lengthAdjust="spacingAndGlyphs">520 (5.2%)</text>
<text x="248.3" y="291.65" text-anchor="end" textLength="21.39" lengthAdjust="spacingAndGlyphs">1146 (3.5%)</text>
<text x="354.9" y="291.65" text-anchor="end" textLength="21.39" lengthAdjust="spacingAndGlyphs">1146 (4.9%)</text>
<text x="463.3" y="291.65" text-anchor="end" textLength="19.47" lengthAdjust="spacingAndGlyphs">626 (2.7%)</text>
<text x="126.6" y="298.95" text-anchor="end" textLength="19.47" lengthAdjust="spacingAndGlyphs">653 (2.8%)</text>
<text x="197.6" y="298.95" text-anchor="end" textLength="19.47" lengthAdjust="spacingAndGlyphs">898 (9.0%)</text>
<text x="248.3" y="298.95" text-anchor="end" textLength="21.68" lengthAdjust="spacingAndGlyphs">1551 (4.7%)</text>
<text x="354.9" y="298.95" text-anchor="end" textLength="21.68" lengthAdjust="spacingAndGlyphs">1551 (6.7%)</text>
<text x="463.3" y="298.95" text-anchor="end" textLength="19.47" lengthAdjust="spacingAndGlyphs">653 (2.8%)</text>
<text x="126.6" y="306.25" text-anchor="end" textLength="21.39" lengthAdjust="spacingAndGlyphs">1199 (5.2%)</text>
<text x="197.6" y="306.25" text-anchor="end" textLength="23.89" lengthAdjust="spacingAndGlyphs">1366 (13.7%)</text>
<text x="248.3" y="306.25" text-anchor="end" textLength="21.68" lengthAdjust="spacingAndGlyphs">2564 (7.7%)</text>
<text x="354.9" y="306.25" text-anchor="end" textLength="23.60" lengthAdjust="spacingAndGlyphs">2564 (11.0%)</text>
<text x="463.3" y="306.25" text-anchor="end" textLength="21.39" lengthAdjust="spacingAndGlyphs">1199 (5.2%)</text>
<text x="286.0" y="221.90" text-anchor="middle" textLength="29.43" lengthAdjust="spacingAndGlyphs" font-weight="bold">10,000 (100.0%)</text>
</g>
<g font-family='"Liberation Sans", sans-serif' font-size="3.95" fill="#1a1a1a" stroke="#1a1a1a" stroke-width="0.12">
<text x="85.0" y="98.70" text-anchor="end">Raw coal and cleaned coal</text>
<text x="467.8" y="98.80">Raw coal and cleaned coal</text>
<text x="85.0" y="106.10" text-anchor="end">Crude oil, natural gas and other gases</text>
<text x="467.8" y="105.60">Crude oil, natural gas and other gases</text>
<text x="85.0" y="112.30" text-anchor="end">Oil products, coking products and nuclear</text>
<text x="85.0" y="116.40" text-anchor="end">materials</text>
<text x="467.8" y="112.60">Oil products, coking products and nuclear</text>
<text x="467.8" y="117.00">materials</text>
<text x="85.0" y="121.80" text-anchor="end">Electricity and heat</text>
<text x="467.8" y="121.80">Electricity and heat</text>
<text x="85.0" y="129.20" text-anchor="end">Agricultural products</text>
<text x="467.8" y="128.70">Agricultural products</text>
<text x="85.0" y="136.90" text-anchor="end">Metallic ores</text>
<text x="467.8" y="135.80">Metallic ores</text>
<text x="85.0" y="144.20" text-anchor="end">Non-metallic ores</text>
<text x="467.8" y="143.20">Non-metallic ores</text>
<text x="85.0" y="150.70" text-anchor="end">Food and tobacco</text>
<text x="467.8" y="150.70">Food and tobacco</text>
<text x="85.0" y="158.60" text-anchor="end">Textile</text>
<text x="467.8" y="157.60">Textile</text>
<text x="85.0" y="166.40" text-anchor="end">Attires and Costumes</text>
<text x="467.8" y="165.40">Attires and Costumes</text>
<text x="85.0" y="173.80" text-anchor="end">Woodware and furniture</text>
<text x="467.8" y="172.60">Woodware and furniture</text>
<text x="85.0" y="181.20" text-anchor="end">Papers, pressworks and sport equipments</text>
<text x="467.8" y="180.00">Papers, pressworks and sport equipments</text>
<text x="85.0" y="188.90" text-anchor="end">Chemical products</text>
<text x="467.8" y="187.70">Chemical products</text>
<text x="85.0" y="195.80" text-anchor="end">Non-metallic products</text>
<text x="467.8" y="195.50">Non-metallic products</text>
<text x="85.0" y="203.50" text-anchor="end">Metal ingots</text>
<text x="467.8" y="202.90">Metal ingots</text>
<text x="85.0" y="210.60" text-anchor="end">Metalware</text>
<text x="467.8" y="209.90">Metalware</text>
<text x="85.0" y="226.60" text-anchor="end">Machinery</text>
<text x="467.8" y="230.20">Machinery</text>
<text x="85.0" y="242.20" text-anchor="end">Vehicle and transportation</text>
<text x="467.8" y="241.60">Vehicle and transportation</text>
<text x="85.0" y="249.60" text-anchor="end">Electrical machinery</text>
<text x="467.8" y="248.90">Electrical machinery</text>
<text x="85.0" y="256.50" text-anchor="end">Computers, communications and electronic</text>
<text x="85.0" y="261.10" text-anchor="end">equipments</text>
<text x="467.8" y="255.90">Computers, communications and electronic</text>
<text x="467.8" y="260.10">equipments</text>
<text x="85.0" y="264.70" text-anchor="end">Measuring equipments</text>
<text x="467.8" y="264.60">Measuring equipments</text>
<text x="85.0" y="271.60" text-anchor="end">Other manufacturings</text>
<text x="467.8" y="271.50">Other manufacturings</text>
<text x="85.0" y="279.80" text-anchor="end">Water</text>
<text x="467.8" y="276.60">Water</text>
<text x="85.0" y="288.20" text-anchor="end">Construction</text>
<text x="467.8" y="283.80">Construction</text>
<text x="85.0" y="294.10" text-anchor="end">Transport, storage and post</text>
<text x="467.8" y="293.30">Transport, storage and post</text>
<text x="85.0" y="301.80" text-anchor="end">Wholesale and retail &amp; accommodation and</text>
<text x="85.0" y="306.40" text-anchor="end">catering</text>
<text x="467.8" y="300.70">Wholesale and retail &amp; accommodation and</text>
<text x="467.8" y="305.20">catering</text>
<text x="85.0" y="311.30" text-anchor="end">Other service sectors</text>
<text x="467.8" y="312.60">Other service sectors</text>
</g>
</svg>
</body></html>
